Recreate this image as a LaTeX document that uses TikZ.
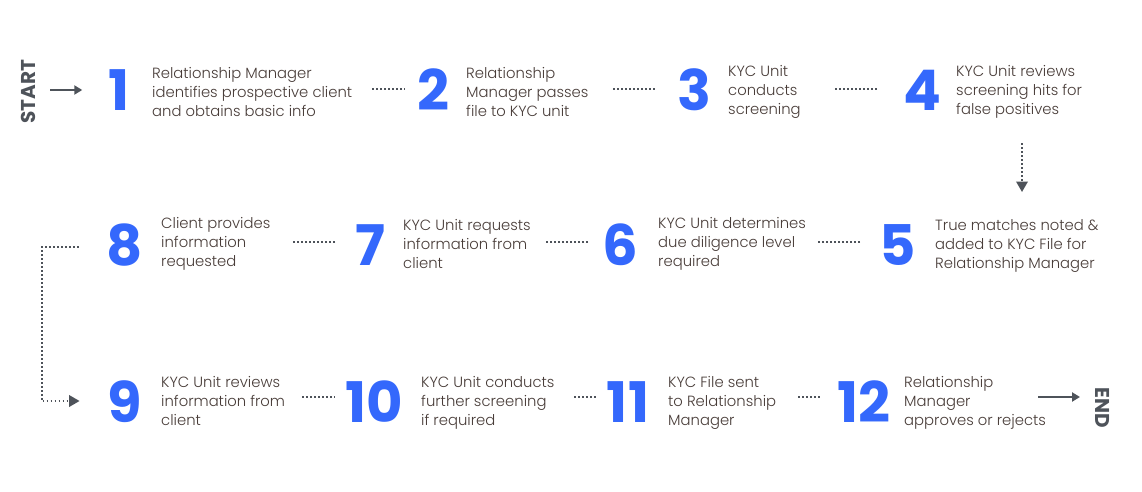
\documentclass[tikz,border=0pt]{standalone}
\usepackage{fontspec}
\setmainfont{Poppins}
\newfontfamily\lightfont{Poppins Light}
\usetikzlibrary{arrows.meta}
\definecolor{numblue}{RGB}{52,104,252}
\definecolor{txt}{RGB}{72,60,56}
\definecolor{lin}{RGB}{78,83,90}
\begin{document}
\begin{tikzpicture}[x=1pt,y=-1pt,
  num/.style={font=\fontsize{56}{56}\selectfont\bfseries, text=numblue, inner sep=0pt, anchor=center},
  desc/.style={font=\lightfont\fontsize{14.8}{19}\selectfont, text=txt, align=left, anchor=west, inner sep=0pt},
  dotl/.style={lin, line width=2pt, dash pattern=on 1.8pt off 2.2pt},
  dotarr/.style={dotl, -{Triangle[length=10.5pt,width=11.5pt]}},
  arr/.style={lin, line width=2pt, -{Triangle[length=8pt,width=9pt]}},
  lbl/.style={font=\fontsize{20}{20}\selectfont\bfseries, text=lin, inner sep=0pt}]
\useasboundingbox[fill=white] (0,0) rectangle (1142,492);
% labels
\node[lbl, rotate=90] (start) at (28,92) {START};
\node[lbl, rotate=-90] (end) at (1103,408) {END};
% row 1
\node[num] (n1) at (119,90) {1};
\node[num] (n2) at (433,90) {2};
\node[num] (n3) at (694,90) {3};
\node[num] (n4) at (922,90) {4};
\node[desc] (t1) at (152,92) {Relationship Manager\\identifies prospective client\\and obtains basic info};
\node[desc] (t2) at (466,92) {Relationship\\Manager passes\\file to KYC unit};
\node[desc] (t3) at (728,92) {KYC Unit\\conducts\\screening};
\node[desc] (t4) at (956,92) {KYC Unit reviews\\screening hits for\\false positives};
% row 2
\node[num] (n5) at (898,245) {5};
\node[num] (n6) at (620,245) {6};
\node[num] (n7) at (370,245) {7};
\node[num] (n8) at (125,245) {8};
\node[desc] (t5) at (935,246) {True matches noted \&\\added to KYC File for\\Relationship Manager};
\node[desc] (t6) at (658,244) {KYC Unit determines\\due diligence level\\required};
\node[desc] (t7) at (403,244) {KYC Unit requests\\information from\\client};
\node[desc] (t8) at (161,244) {Client provides\\information\\requested};
% row 3
\node[num] (n9) at (125,402) {9};
\node[num] (n10) at (374,402) {10};
\node[num] (n11) at (628,402) {11};
\node[num] (n12) at (864,402) {12};
\node[desc] (t9) at (161,401) {KYC Unit reviews\\information from\\client};
\node[desc] (t10) at (421,403) {KYC Unit conducts\\further screening\\if required};
\node[desc] (t11) at (668,403) {KYC File sent\\to Relationship\\Manager};
\node[desc] (t12) at (904,403) {Relationship\\Manager\\approves or rejects};
% free ends of the drop from row 1 to row 2
\coordinate (d1) at (1022,143);
\coordinate (d2) at (1022,192);
% connectors
\draw[arr, shorten <=22pt, shorten >=26pt] (start.center |- n1) -- (n1);
\draw[dotl, shorten <=253pt, shorten >=28pt] ([yshift=1pt]n1.center) -- ([yshift=1pt]n2.center);
\draw[dotl, shorten <=180pt, shorten >=39pt] ([yshift=1pt]n2.center) -- ([yshift=1pt]n3.center);
\draw[dotl, shorten <=141pt, shorten >=45pt] ([yshift=1pt]n3.center) -- ([yshift=1pt]n4.center);
\draw[dotarr] (d1) -- (d2);
\draw[dotl, shorten <=38pt, shorten >=198pt] ([yshift=3pt]n5.center) -- ([yshift=3pt]n6.center);
\draw[dotl, shorten <=32pt, shorten >=176pt] ([yshift=3pt]n6.center) -- ([yshift=3pt]n7.center);
\draw[dotl, shorten <=35pt, shorten >=167pt] ([yshift=3pt]n7.center) -- ([yshift=3pt]n8.center);
\draw[dotarr, shorten >=28pt] ([xshift=-28pt,yshift=-2pt]n8.west) -- ++(-37pt,0) |- ([yshift=1pt]n9.west);
\draw[dotl, shorten <=177pt, shorten >=39pt] ([yshift=5pt]n9.center) -- ([yshift=5pt]n10.center);
\draw[dotl, shorten <=200pt, shorten >=31pt] ([yshift=5pt]n10.center) -- ([yshift=5pt]n11.center);
\draw[dotl, shorten <=170pt, shorten >=44pt] ([yshift=5pt]n11.center) -- ([yshift=5pt]n12.center);
\draw[arr, shorten <=174pt, shorten >=23pt] ([yshift=5pt]n12.center) -- ([yshift=5pt]n12.center -| end.center);
\end{tikzpicture}
\end{document}
